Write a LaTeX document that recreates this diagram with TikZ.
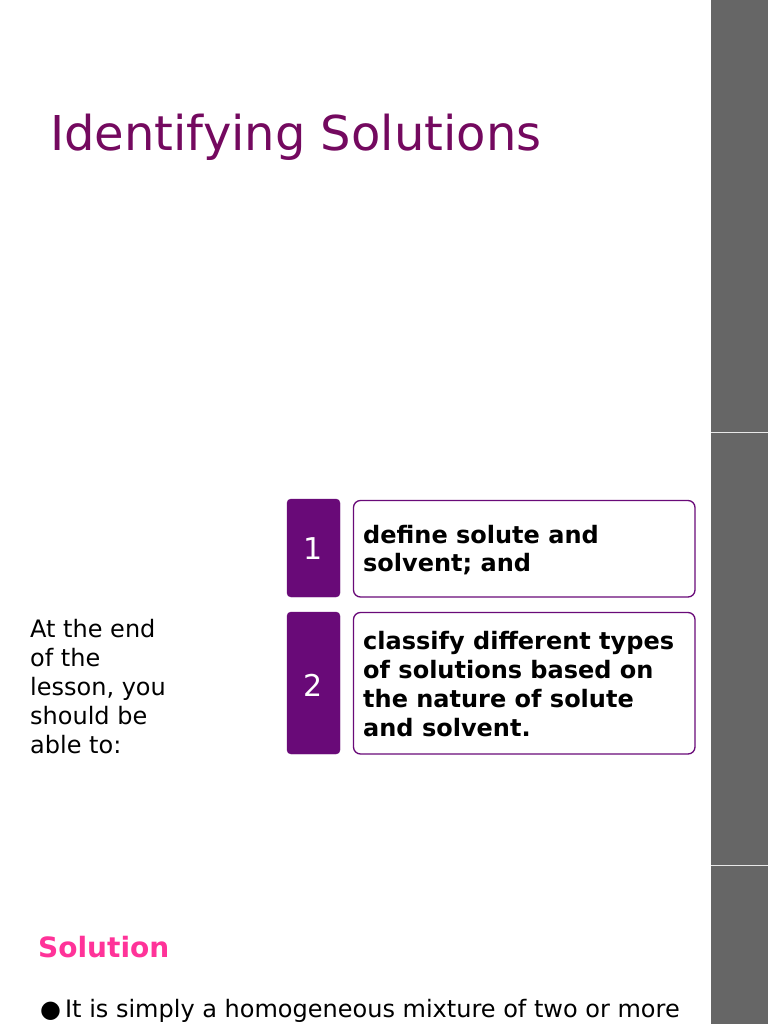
\documentclass[tikz,border=0pt]{standalone}
\usepackage{fontspec}
\setmainfont{DejaVu Sans}
\definecolor{purp}{HTML}{690A78}
\definecolor{ttl}{HTML}{74095F}
\definecolor{pink}{HTML}{FF3399}
\definecolor{bar}{HTML}{666666}
\begin{document}
\begin{tikzpicture}[x=1pt,y=-1pt,
 numbox/.style={fill=purp,draw=purp,rounded corners=4pt},
 numtxt/.style={text=white,font=\fontsize{30}{34}\selectfont},
 txtbox/.style={draw=purp,line width=1.3pt,fill=white,rounded corners=7pt},
 bodytxt/.style={font=\fontsize{24}{28.7}\selectfont\bfseries,align=left,anchor=west,inner sep=0}]
\useasboundingbox (0,0) rectangle (768,1024);
\fill[white] (0,0) rectangle (768,1024);
\fill[bar] (711,0) rectangle (768,1024);
\draw[white!85!bar,line width=1pt] (711,432.5) -- (768,432.5) (711,865.5) -- (768,865.5);
\node[anchor=west,inner sep=0,text=ttl,font=\fontsize{48}{52}\selectfont] (title) at (50,137) {Identifying Solutions};
\draw[numbox] (287,499) rectangle (340,597);
\node[numtxt] (n1) at (313.5,549) {1};
\draw[txtbox] (353.5,500.5) rectangle (695,597);
\node[bodytxt] (t1) at (363,550) {define solute and\\solvent; and};
\draw[numbox] (287,612) rectangle (340,754);
\node[numtxt] (n2) at (313.5,685) {2};
\draw[txtbox] (353.5,612.5) rectangle (695,754);
\node[bodytxt] (t2) at (363,684) {classify different types\\of solutions based on\\the nature of solute\\and solvent.};
\node[anchor=north west,inner sep=0,align=left,font=\fontsize{24}{29}\selectfont] (intro) at (30,619) {At the end\\of the\\lesson, you\\should be\\able to:};
\node[anchor=west,inner sep=0,text=pink,font=\fontsize{28}{32}\selectfont\bfseries] (sol) at (38,947) {Solution};
\node[anchor=west,inner sep=0,font=\fontsize{24}{28}\selectfont] (bul) at (40,1011) {●\,It is simply a homogeneous mixture of two or more};
\end{tikzpicture}
\end{document}
